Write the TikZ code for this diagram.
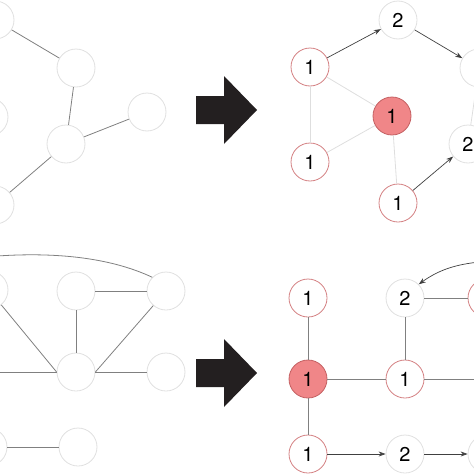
\documentclass[tikz,border=0pt]{standalone}
\usepackage{fontspec}
\setmainfont{TeX Gyre Heros}
\usepackage{tikz}
\usetikzlibrary{arrows.meta}
\definecolor{ringred}{RGB}{212,128,130}
\definecolor{seedred}{RGB}{240,134,136}
\definecolor{seedline}{RGB}{196,96,98}
\definecolor{blockgray}{RGB}{35,31,32}

\begin{document}
\begin{tikzpicture}[x=1pt, y=-1pt]
        \tikzstyle{blank} = [circle, draw=black!12, fill=white, line width=0.8pt, inner sep=0pt, minimum size=38pt, font=\fontsize{20}{20}\selectfont]
        \tikzstyle{ring} = [blank, draw=ringred]
        \tikzstyle{seed} = [blank, draw=seedline, fill=seedred]
        \tikzstyle{edge} = [black!50, line width=0.8pt]
        \tikzstyle{faint} = [black!13, line width=0.8pt]
        \tikzstyle{flow} = [black!75, line width=0.7pt, -{Stealth[length=7pt, width=5pt]}]
        \useasboundingbox (0,0) rectangle (474,474);
        \clip (0,0) rectangle (474,474);
        % input graph, top
        \node[blank] (t1) at (-5,20) {};
        \node[blank] (t2) at (76,68) {};
        \node[blank] (t3) at (-11,117) {};
        \node[blank] (t4) at (147,112) {};
        \node[blank] (t5) at (66,144) {};
        \node[blank] (t6) at (-5,205) {};
        \draw[edge] (t1) -- (t2);
        \draw[edge] (t2) -- (t5);
        \draw[edge] (t5) -- (t4);
        \draw[edge] (t5) -- (t6);
        % labelled graph, top
        \node[ring] (u1) at (310,67) {1};
        \node[blank] (u2) at (398,20) {2};
        \node[blank] (u3) at (479,68) {};
        \node[seed] (u4) at (392,116) {1};
        \node[blank] (u5) at (468,144) {2};
        \node[ring] (u6) at (310,162) {1};
        \node[ring] (u7) at (398,203) {1};
        \draw[faint] (u1) -- (u4);
        \draw[faint] (u1) -- (u6);
        \draw[faint] (u6) -- (u4);
        \draw[faint] (u4) -- (u7);
        \draw[faint] (u3) -- (u5);
        \draw[flow] (u1) -- (u2);
        \draw[flow] (u2) -- (u3);
        \draw[flow] (u7) -- (u5);
        % input graph, bottom
        \coordinate (lc) at (-90,268);
        \node[blank] (l0) at (-30,372) {};
        \node[blank] (l1) at (-11,290) {};
        \node[blank] (l2) at (76,291) {};
        \node[blank] (l3) at (166,291) {};
        \node[blank] (l4) at (76,372) {};
        \node[blank] (l5) at (166,372) {};
        \node[blank] (l6) at (-12,447) {};
        \node[blank] (l7) at (78,447) {};
        \draw[edge] (lc) .. controls (0,250) and (90,248) .. (l3.north west);
        \draw[edge] (l1) -- (l4.west);
        \draw[edge] (l2) -- (l3);
        \draw[edge] (l2) -- (l4);
        \draw[edge] (l3) -- (l4.east);
        \draw[edge] (l4) -- (l5);
        \draw[edge] (l0) -- (l4);
        \draw[edge] (l6) -- (l7);
        % labelled graph, bottom
        \coordinate (rc) at (560,262);
        \node[ring] (b1) at (308,298) {1};
        \node[blank] (b2) at (405,298) {2};
        \node[ring] (b3) at (487,298) {};
        \node[seed] (b4) at (308,379) {1};
        \node[ring] (b5) at (405,379) {1};
        \node[ring] (b6) at (500,379) {};
        \node[ring] (b7) at (308,454) {1};
        \node[blank] (b8) at (405,454) {2};
        \node[blank] (b9) at (487,454) {};
        \draw[edge] (b1) -- (b4);
        \draw[edge] (b4) -- (b7);
        \draw[edge] (b4) -- (b5);
        \draw[edge] (b2) -- (b5);
        \draw[edge] (b2) -- (b3);
        \draw[edge] (b5) -- (b6);
        \draw[flow] (rc) .. controls (480,258) and (450,262) .. (b2.north east);
        \draw[flow] (b7) -- (b8);
        \draw[flow] (b8) -- (b9);
        % block arrows
        \foreach \y in {110,373}
            \fill[blockgray] (196,\y-14) -- (224,\y-14) -- (224,\y-34) -- (257,\y) -- (224,\y+34) -- (224,\y+14) -- (196,\y+14) -- cycle;
    \end{tikzpicture}
\end{document}
